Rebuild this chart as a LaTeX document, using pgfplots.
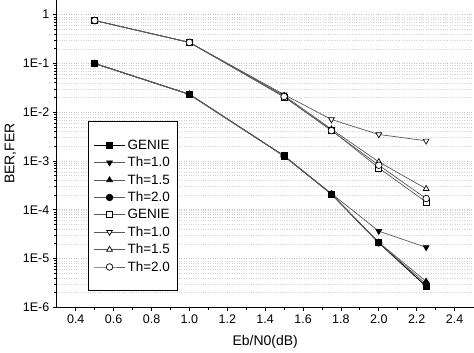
\documentclass[border=0pt]{standalone}
\usepackage{pgfplots}
\pgfplotsset{compat=1.18}
\usepackage{fontspec}
\setmainfont{Liberation Sans}
\begin{document}
\begin{tikzpicture}
\begin{axis}[
  name=ax,
  scale only axis,
  width=415.8bp, height=306.7bp,
  xmin=0.3, xmax=2.5,
  ymode=log, ymin=1e-6, ymax=2,
  axis x line*=bottom, axis y line*=left,
  axis line style={black, line width=1bp},
  xtick={0.4,0.6,...,2.41},
  minor x tick num=1,
  ytick={1e-6,1e-5,1e-4,1e-3,1e-2,1e-1,1},
  yticklabels={1E-6,1E-5,1E-4,1E-3,1E-2,1E-1,1},
  /pgf/number format/assume math mode=true,
  xticklabel style={/pgf/number format/.cd, fixed, fixed zerofill, precision=1},
  ticklabel style={font=\fontsize{12.5}{14}\selectfont},
  tick align=outside,
  major tick length=4bp, minor tick length=2.5bp,
  tick style={black, line width=0.8bp},
  ymajorgrids, yminorgrids,
  major grid style={gray!45, dotted, line width=0.6bp},
  minor grid style={gray!35, dotted, line width=0.5bp},
  xlabel={Eb/N0(dB)}, ylabel={BER,FER},
  label style={font=\fontsize{14}{16}\selectfont},
  xlabel style={yshift=-5bp},
  ylabel style={yshift=0bp},
  legend style={at={(rel axis cs:0.075,0.605)}, anchor=north west,
    draw=black, line width=0.8bp, font=\fontsize{13.5}{15}\selectfont,
    inner xsep=5bp, inner ysep=16bp, row sep=2.2bp, cells={anchor=west}},
  legend image code/.code={\draw[mark repeat=2,mark phase=2] plot coordinates {(0cm,0cm) (0.55cm,0cm) (1.1cm,0cm)};},
  every axis plot/.append style={line width=0.7bp, mark size=3.3bp},
]
% BER
\addplot[black, line width=0.9bp, mark=square*, mark options={black, solid, mark size=3bp}] coordinates {(0.5,0.1) (1.0,0.0233) (1.5,1.27e-3) (1.75,2.1e-4) (2.0,2.1e-5) (2.25,2.7e-6)};
\addlegendentry{GENIE}
\addplot[gray!70!black, mark=triangle*, mark options={black, fill=black, rotate=180}] coordinates {(0.5,0.1) (1.0,0.0233) (1.5,1.27e-3) (1.75,2.15e-4) (2.0,3.65e-5) (2.25,1.7e-5)};
\addlegendentry{Th=1.0}
\addplot[gray!70!black, mark=triangle*, mark options={black, fill=black}] coordinates {(0.5,0.1) (1.0,0.0233) (1.5,1.27e-3) (1.75,2.1e-4) (2.0,2.15e-5) (2.25,3.4e-6)};
\addlegendentry{Th=1.5}
\addplot[gray!70!black, mark=*, mark options={black, fill=black}] coordinates {(0.5,0.1) (1.0,0.0233) (1.5,1.27e-3) (1.75,2.1e-4) (2.0,2.1e-5) (2.25,3.0e-6)};
\addlegendentry{Th=2.0}
% FER
\addplot[gray!70!black, mark=square*, mark options={black, fill=white, mark size=3bp}] coordinates {(0.5,0.76) (1.0,0.27) (1.5,0.0205) (1.75,4.3e-3) (2.0,7.2e-4) (2.25,1.44e-4)};
\addlegendentry{GENIE}
\addplot[gray!70!black, mark=triangle*, mark options={black, fill=white, rotate=180}] coordinates {(0.5,0.76) (1.0,0.27) (1.5,0.023) (1.75,7.1e-3) (2.0,3.5e-3) (2.25,2.6e-3)};
\addlegendentry{Th=1.0}
\addplot[gray!70!black, mark=triangle*, mark options={black, fill=white}] coordinates {(0.5,0.76) (1.0,0.27) (1.5,0.022) (1.75,4.5e-3) (2.0,9.6e-4) (2.25,2.7e-4)};
\addlegendentry{Th=1.5}
\addplot[gray!70!black, mark=*, mark options={black, fill=white}] coordinates {(0.5,0.76) (1.0,0.27) (1.5,0.021) (1.75,4.2e-3) (2.0,8.2e-4) (2.25,1.7e-4)};
\addlegendentry{Th=2.0}
\end{axis}
\pgfresetboundingbox
\path (ax.south west) ++(-56.7bp,-45.3bp) coordinate (bl);
\path (bl) rectangle ([xshift=0.5bp]ax.north east);
\end{tikzpicture}
\end{document}
